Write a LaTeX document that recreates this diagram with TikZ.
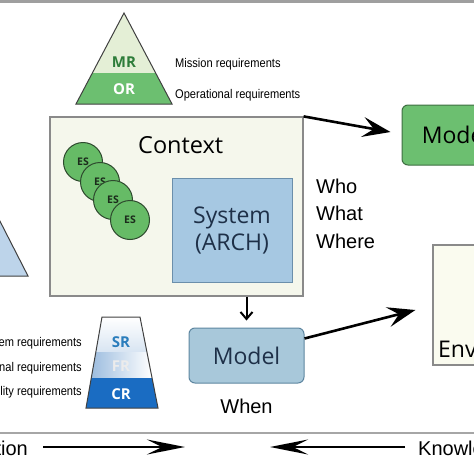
\documentclass[tikz,border=0pt]{standalone}
\usepackage{fontspec}
\setmainfont{Open Sans}
\newfontfamily\arialfont{Liberation Sans}
\newfontfamily\narrowfont[FakeStretch=0.88]{Liberation Sans}
\usetikzlibrary{arrows.meta, positioning}

\definecolor{ctxfill}{HTML}{F5F7EC}
\definecolor{framegray}{HTML}{8A8A8A}
\definecolor{sysfill}{HTML}{A6C8E2}
\definecolor{sysedge}{HTML}{6B8FAB}
\definecolor{systext}{HTML}{1E3048}
\definecolor{esgreen}{HTML}{66BB66}
\definecolor{esedge}{HTML}{2E4A2E}
\definecolor{mgreen}{HTML}{6CBF70}
\definecolor{mgreenedge}{HTML}{3E6E42}
\definecolor{mblue}{HTML}{A8C8DA}
\definecolor{mblueedge}{HTML}{5E86A0}
\definecolor{envfill}{HTML}{FAFBEF}
\definecolor{paletop}{HTML}{E4EFD6}
\definecolor{mrgreen}{HTML}{2E7D3A}
\definecolor{crblue}{HTML}{1A6CC2}
\definecolor{srblue}{HTML}{2A7DBC}
\definecolor{frblue}{HTML}{9DBDDF}
\definecolor{lefttri}{HTML}{BDD4EA}

\begin{document}
\begin{tikzpicture}[x=1pt, y=-1pt,
        every node/.style={inner sep=0pt},
        ctxbox/.style={rectangle, draw=framegray, fill=ctxfill, line width=1.2pt, minimum width=253pt, minimum height=179pt},
        sysbox/.style={rectangle, draw=sysedge, fill=sysfill, line width=1pt, minimum width=120pt, minimum height=104pt, align=center, text=systext, font=\fontsize{23}{27}\selectfont},
        esball/.style={circle, draw=esedge, fill=esgreen, line width=1pt, minimum size=39pt, font=\bfseries\fontsize{10.5}{12}\selectfont, text=esedge!60!black},
        modelbox/.style={rectangle, rounded corners=6pt, line width=1pt, font=\fontsize{23}{27}\selectfont},
        envbox/.style={rectangle, draw=framegray, fill=envfill, line width=1.2pt, minimum width=120pt, minimum height=120pt},
        bigtxt/.style={font=\arialfont\fontsize{20}{24}\selectfont},
        reqtxt/.style={font=\narrowfont\fontsize{12.6}{14}\selectfont},
        tag/.style={font=\bfseries\fontsize{15}{17}\selectfont},
        arr/.style={-{Stealth[length=28pt, width=20pt, inset=11pt]}, line width=2.6pt},
        longarr/.style={-{Stealth[length=38pt, width=15pt, inset=15pt]}, line width=1.7pt}
    ]
        \useasboundingbox (0,0) rectangle (474,474);
        \clip (0,0) rectangle (474,474);

        % top band
        \fill[gray!75] (0,0) rectangle (474,3);

        % mission pyramid
        \fill[paletop] (124,13) -- (92.4,73) -- (155.6,73) -- cycle;
        \fill[mgreen] (92.4,73) -- (76,104) -- (172,104) -- (155.6,73) -- cycle;
        \draw[line width=1pt, black!75] (124,13) -- (76,104) -- (172,104) -- cycle;
        \node[tag, text=mrgreen] (mr) at (124,62) {MR};
        \node[tag, text=white] (or) at (124,89) {OR};
        \node[reqtxt, anchor=base west] (mreq) at (175,67) {Mission requirements};
        \node[reqtxt, anchor=base west] (oreq) at (175,98) {Operational requirements};

        % left pyramid
        \fill[lefttri] (-18,186) -- (-64,276) -- (28,276) -- cycle;
        \draw[line width=1pt, black!75] (-18,186) -- (-64,276) -- (28,276) -- cycle;

        % context
        \node[ctxbox] (ctx) at (176.5,206.5) {};
        \node[anchor=base west, font=\fontsize{23.5}{27}\selectfont] (ctxt) at (138,153) {Context};
        \foreach \i/\x/\y in {1/83/162, 2/100/182, 3/113/200, 4/130/220}
            \node[esball] (es\i) at (\x,\y) {ES};
        \node[sysbox] (sys) at (232,230) {System\\(ARCH)};

        \node[bigtxt, anchor=base west] (who) at (316,193) {Who};
        \node[bigtxt, anchor=base west] (what) at (316,220) {What};
        \node[bigtxt, anchor=base west] (where) at (316,248) {Where};

        % models
        \node[modelbox, draw=mgreenedge, fill=mgreen, minimum width=107pt, minimum height=60pt] (mtop) at (455.5,135) {Model};
        \node[modelbox, draw=mblueedge, fill=mblue, text=systext, minimum width=115pt, minimum height=55pt] (mbot) at (246.5,355.5) {Model};
        \node[bigtxt, anchor=base] (when) at (246.5,413) {When};

        \node[envbox] (env) at (493,305) {};
        \node[anchor=base west, font=\fontsize{23}{27}\selectfont] (envt) at (438,357) {Environment};

        % system pyramid
        \shade[top color=white, bottom color=frblue!40] (102,317) -- (140,317) -- (146.9,352) -- (95.8,352) -- cycle;
        \shade[left color=frblue, right color=white] (95.8,352) -- (146.9,352) -- (152.1,378) -- (91.3,378) -- cycle;
        \fill[crblue] (91.3,378) -- (152.1,378) -- (158,408) -- (86,408) -- cycle;
        \draw[line width=1pt, black!75] (102,317) -- (140,317) -- (158,408) -- (86,408) -- cycle;
        \node[tag, text=srblue] (sr) at (121,342) {SR};
        \node[tag, text=white!85!gray] (fr) at (121,366) {FR};
        \node[tag, text=white] (cr) at (121,394) {CR};
        \node[reqtxt, anchor=base east] (sreq) at (82,346) {System requirements};
        \node[reqtxt, anchor=base east] (freq) at (82,371) {Functional requirements};
        \node[reqtxt, anchor=base east] (creq) at (82,395) {Capability requirements};

        % Arrows
        \draw[arr] (ctx.north east) -- ([xshift=-11pt, yshift=3pt]mtop.west);
        \draw[-{Straight Barb[length=7pt, width=12pt]}, line width=2pt] (mbot.north |- ctx.south) -- ([yshift=7pt]mbot.north);
        \draw[arr] ([yshift=17pt]mbot.east) -- ([xshift=-17pt, yshift=-5pt]env.west);

        % bottom scale
        \draw[gray!70, line width=1.3pt] (0,433) -- (474,433);
        \node[bigtxt, anchor=base east] (spec) at (28,455) {Specification};
        \node[bigtxt, anchor=base west] (know) at (418,455) {Knowledge};
        \coordinate (specto) at (185,447);
        \coordinate (knowto) at (270,447);
        \draw[longarr] ([xshift=15pt]spec.east |- specto) -- (specto);
        \draw[longarr] ([xshift=-13pt]know.west |- knowto) -- (knowto);

    \end{tikzpicture}
\end{document}
